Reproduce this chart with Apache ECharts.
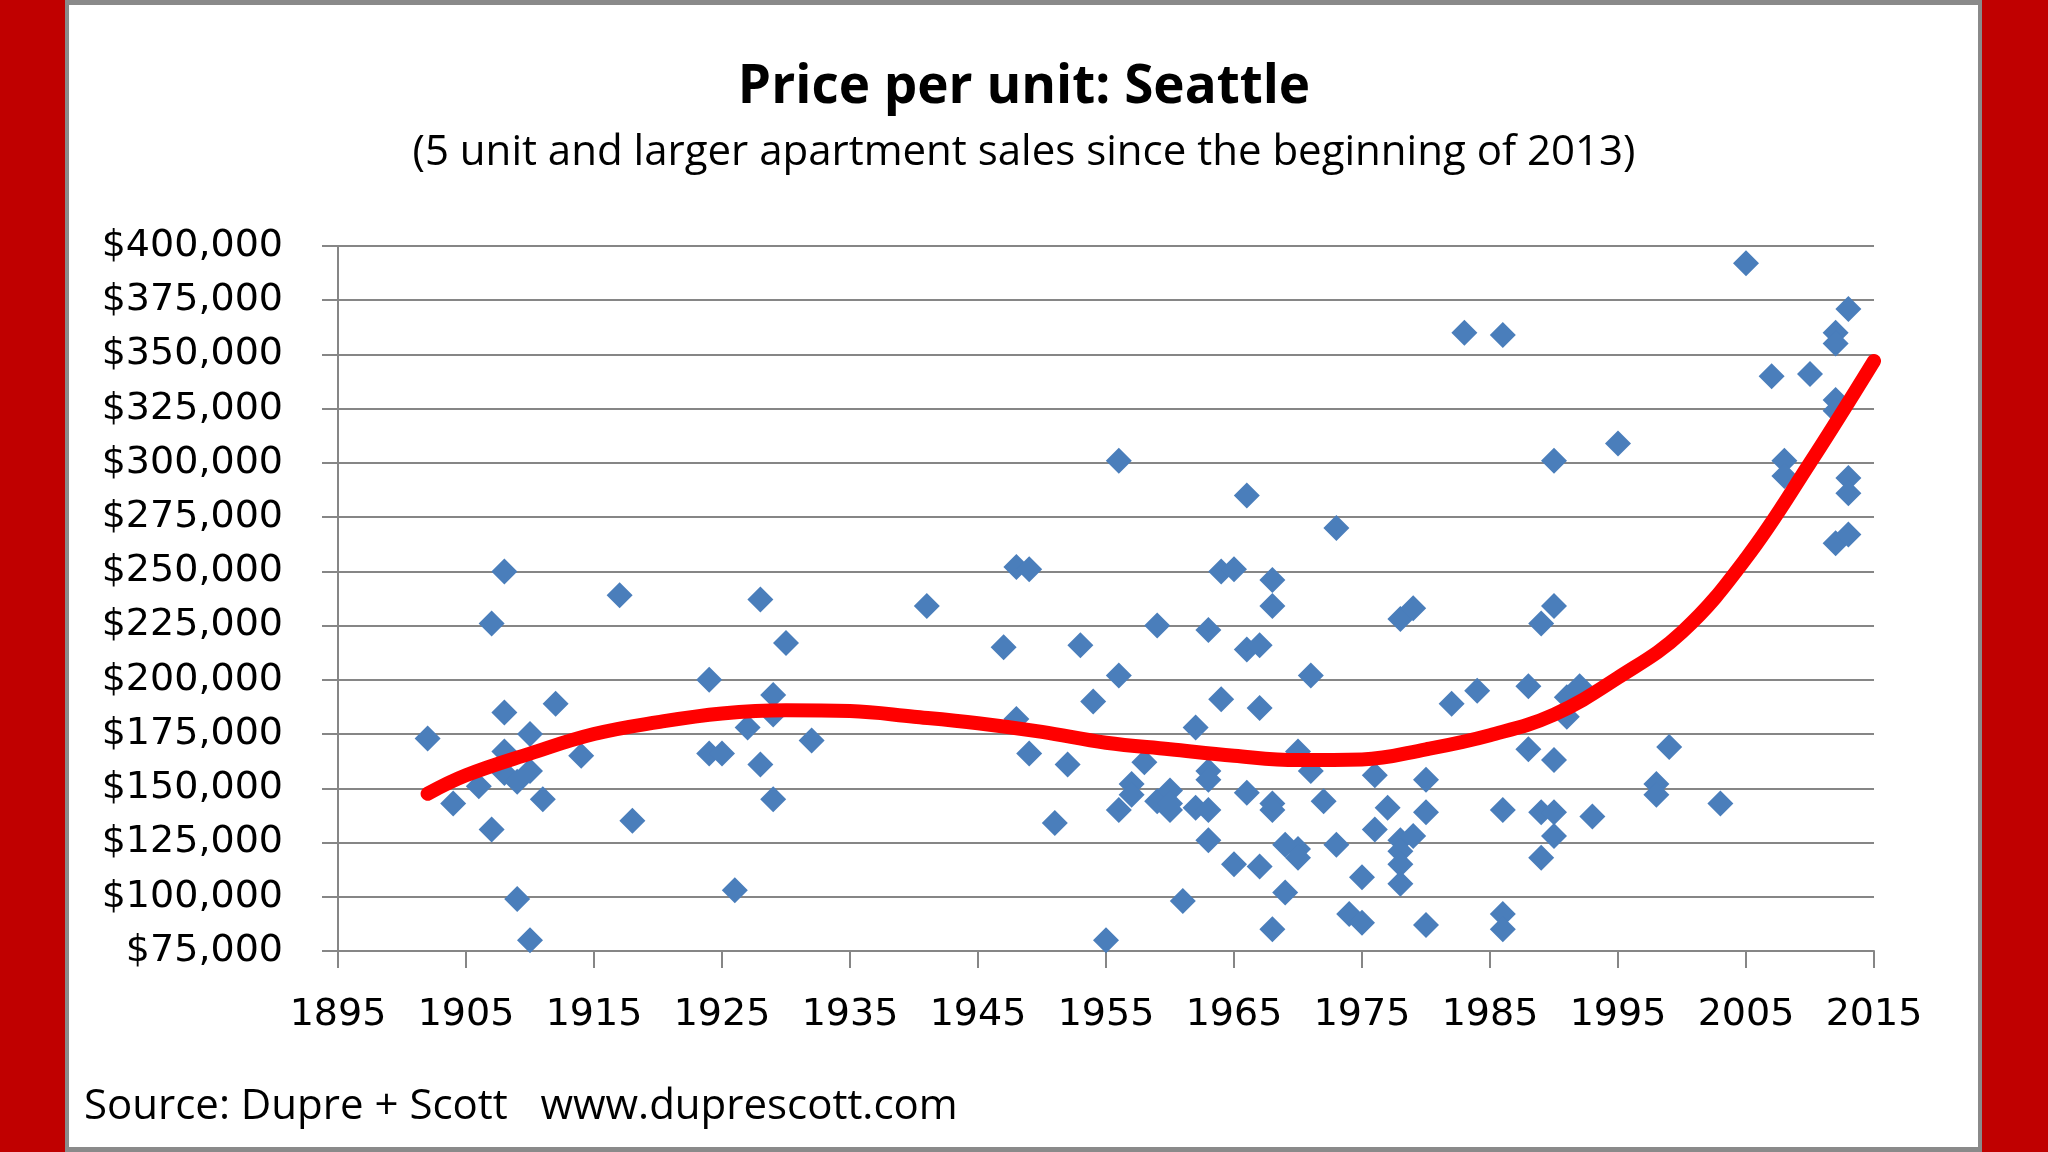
<!DOCTYPE html>
<html>
<head>
<meta charset="utf-8">
<title>Price per unit: Seattle</title>
<script src="https://cdn.jsdelivr.net/npm/echarts@6/dist/echarts.min.js"></script>
<style>
  html, body { margin: 0; padding: 0; background: #fff; }
  #chart { width: 2048px; height: 1152px; }
</style>
</head>
<body>
<div id="chart"></div>
<script>
// year built vs price per unit, one entry per sale
const saleYears = [
  1902, 1904, 1906, 1907, 1907, 1908, 1908, 1908, 1908, 1909, 1909, 1910, 1910, 1910, 1911, 1912, 1914, 1917, 1918,
  1924, 1924, 1925, 1926, 1927, 1928, 1928, 1929, 1929, 1929, 1930, 1932,
  1941, 1947, 1948, 1948, 1949, 1949,
  1951, 1952, 1953, 1954, 1955, 1956, 1956, 1956, 1957, 1957, 1958, 1959, 1959,
  1960, 1960, 1960, 1961, 1962, 1962, 1963, 1963, 1963, 1963, 1963, 1964, 1964, 1965, 1965,
  1966, 1966, 1966, 1967, 1967, 1967, 1968, 1968, 1968, 1968, 1968, 1969, 1969,
  1970, 1970, 1970, 1971, 1971, 1972, 1973, 1973, 1974, 1975, 1975, 1976, 1976, 1977,
  1978, 1978, 1978, 1978, 1978, 1979, 1979, 1980, 1980, 1980,
  1982, 1983, 1984, 1986, 1986, 1986, 1986, 1988, 1988, 1989, 1989, 1989,
  1990, 1990, 1990, 1990, 1990, 1991, 1991, 1992, 1993, 1995, 1998, 1998, 1999,
  2003, 2005, 2007, 2008, 2008, 2010, 2012, 2012, 2012, 2012, 2012, 2013, 2013, 2013, 2013
];
const salePrices = [
  173000, 143000, 151000, 226000, 131000, 250000, 185000, 167000, 157000, 153000, 99000, 175000, 158000, 80000, 145000, 189000, 165000, 239000, 135000,
  200000, 166000, 166000, 103000, 178000, 237000, 161000, 193000, 184000, 145000, 217000, 172000,
  234000, 215000, 252000, 182000, 251000, 166000,
  134000, 161000, 216000, 190000, 80000, 301000, 202000, 140000, 152000, 147000, 162000, 225000, 144000,
  149000, 143000, 140000, 98000, 178000, 141000, 223000, 158000, 154000, 140000, 126000, 250000, 191000, 251000, 115000,
  285000, 214000, 148000, 216000, 187000, 114000, 246000, 234000, 143000, 140000, 85000, 124000, 102000,
  167000, 122000, 118000, 202000, 158000, 144000, 270000, 124000, 92000, 109000, 88000, 156000, 131000, 141000,
  228000, 126000, 121000, 115000, 106000, 233000, 128000, 154000, 139000, 87000,
  189000, 360000, 195000, 359000, 140000, 92000, 85000, 197000, 168000, 226000, 139000, 118000,
  301000, 234000, 163000, 139000, 128000, 192000, 183000, 197000, 137000, 309000, 152000, 147000, 169000,
  143000, 392000, 340000, 301000, 294000, 341000, 360000, 355000, 329000, 324000, 263000, 371000, 293000, 286000, 267000
];

// red trend curve
const trendYears = [1902, 1905, 1910, 1915, 1920, 1925, 1930, 1935, 1940, 1945, 1950, 1955, 1960, 1965, 1970, 1975, 1980, 1985, 1990, 1995, 2000, 2005, 2010, 2015];
const trendPrices = [147500, 156000, 166000, 175000, 180500, 184500, 186000, 185600, 183000, 180000, 176000, 171000, 168000, 165000, 163000, 163300, 168000, 174500, 184000, 201000, 222000, 256000, 300000, 347000];

const titleText = 'Price per unit: Seattle';
const subtitleText = '(5 unit and larger apartment sales since the beginning of 2013)';
const sourceText = 'Source: Dupre + Scott   www.duprescott.com';

const chart = echarts.init(document.getElementById('chart'));

const gridColor = '#868686';

chart.setOption({
  backgroundColor: '#ffffff',
  animation: false,
  title: [
    {
      text: titleText,
      left: 'center',
      top: 56,
      textStyle: { fontFamily: 'Open Sans', fontWeight: 'bold', fontSize: 53, color: '#000' }
    },
    {
      text: subtitleText,
      left: 'center',
      top: 127,
      textStyle: { fontFamily: 'Open Sans', fontWeight: 'normal', fontSize: 42, color: '#000' }
    },
    {
      text: sourceText,
      left: 79,
      top: 1081,
      textStyle: { fontFamily: 'Open Sans', fontWeight: 'normal', fontSize: 42, color: '#000' }
    }
  ],
  graphic: [
    // red side bars + grey frame
    { type: 'rect', shape: { x: 0, y: 0, width: 65, height: 1152 }, style: { fill: '#c00000' } },
    { type: 'rect', shape: { x: 1982, y: 0, width: 66, height: 1152 }, style: { fill: '#c00000' } },
    { type: 'rect', shape: { x: 65, y: 0, width: 4, height: 1152 }, style: { fill: '#8a8a8a' } },
    { type: 'rect', shape: { x: 1978, y: 0, width: 4, height: 1152 }, style: { fill: '#8a8a8a' } },
    { type: 'rect', shape: { x: 65, y: 0, width: 1917, height: 5 }, style: { fill: '#8a8a8a' } },
    { type: 'rect', shape: { x: 65, y: 1147, width: 1917, height: 5 }, style: { fill: '#8a8a8a' } }
  ],
  grid: {
    left: 338,
    right: 174,
    top: 246,
    bottom: 201,
    containLabel: false
  },
  xAxis: {
    type: 'value',
    min: 1895,
    max: 2015,
    interval: 10,
    axisLine: { show: true, lineStyle: { color: gridColor, width: 2 } },
    axisTick: { show: true, inside: false, length: 17, lineStyle: { color: gridColor, width: 2 } },
    splitLine: { show: false },
    axisLabel: {
      margin: 45,
      fontFamily: 'DejaVu Sans',
      fontSize: 38,
      color: '#000',
      formatter: (v) => String(v)
    }
  },
  yAxis: {
    type: 'value',
    min: 75000,
    max: 400000,
    interval: 25000,
    axisLine: { show: true, lineStyle: { color: gridColor, width: 2 } },
    axisTick: { show: true, inside: false, length: 16, lineStyle: { color: gridColor, width: 2 } },
    splitLine: { show: true, lineStyle: { color: gridColor, width: 2 } },
    axisLabel: {
      margin: 55,
      fontFamily: 'DejaVu Sans',
      fontSize: 38,
      color: '#000',
      formatter: (v) => '$' + v.toLocaleString('en-US')
    }
  },
  series: [
    {
      name: 'Sales',
      type: 'scatter',
      symbol: 'diamond',
      symbolSize: 26,
      itemStyle: { color: '#4a7ebb', opacity: 1 },
      data: saleYears.map((y, i) => [y, salePrices[i]]),
      z: 2
    },
    {
      name: 'Trend',
      type: 'line',
      smooth: 0.4,
      symbol: 'none',
      lineStyle: { color: '#ff0000', width: 14, cap: 'round' },
      data: trendYears.map((y, i) => [y, trendPrices[i]]),
      z: 3
    }
  ]
});
</script>
</body>
</html>
